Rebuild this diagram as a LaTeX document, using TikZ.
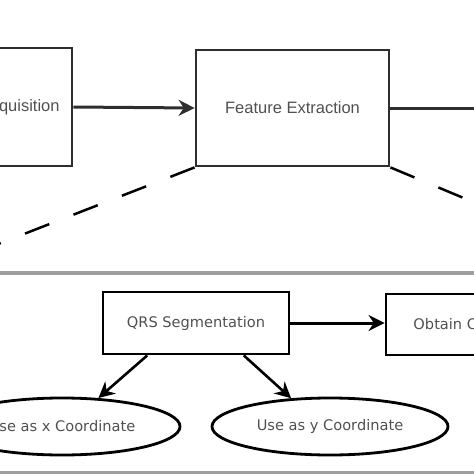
\documentclass[tikz,border=0pt]{standalone}
\usepackage{fontspec}
\usetikzlibrary{shapes.geometric,arrows.meta,calc}
\newfontfamily\topfont{Liberation Sans}
\newfontfamily\botfont{DejaVu Sans}
\definecolor{txtgray}{HTML}{505050}
\definecolor{linegray}{HTML}{2E2E2E}
\begin{document}
\begin{tikzpicture}[x=1pt,y=-1pt,
  topbox/.style={draw=linegray,line width=2.8pt,rectangle,inner sep=0pt,
    font=\topfont\fontsize{16.5}{19}\selectfont,text=txtgray},
  botbox/.style={draw=black,line width=2.8pt,rectangle,inner sep=0pt,
    font=\botfont\fontsize{14.6}{17}\selectfont,text=txtgray},
  botell/.style={draw=black,line width=2.8pt,ellipse,inner sep=0pt,
    minimum width=236pt,minimum height=57pt,
    font=\botfont\fontsize{14.6}{17}\selectfont,text=txtgray},
  flow/.style={line width=3pt,draw=linegray,-{Stealth[length=16pt,width=16pt]}},
  zoomline/.style={line width=2.5pt,draw=black,dash pattern=on 26pt off 26pt},
  sep/.style={line width=3.5pt,draw=gray!75}]
\useasboundingbox (0,0) rectangle (474,474);
\clip (0,0) rectangle (474,474);
% top row
\node[topbox,minimum width=144pt,minimum height=118pt] (acq) at (0,107) {Data Acquisition};
\node[topbox,minimum width=193pt,minimum height=116pt] (fe) at (292.5,108) {Feature Extraction};
\coordinate (nextbox) at (490,108);
\draw[flow] (acq.east) -- (fe.west);
\draw[line width=3pt,draw=linegray] (fe.east) -- (nextbox);
% zoom lines
\coordinate (zl) at (-76,273);
\coordinate (zr) at (643,273);
\draw[zoomline] (fe.south west) -- (zl);
\draw[zoomline] (fe.south east) -- (zr);
% separators
\coordinate (s1a) at (-5,273);
\coordinate (s1b) at (480,273);
\coordinate (s2a) at (-5,472.5);
\coordinate (s2b) at (480,472.5);
\draw[sep] (s1a) -- (s1b);
\draw[sep] (s2a) -- (s2b);
% bottom panel
\node[botbox,minimum width=186pt,minimum height=62pt] (qrs) at (196,323) {QRS Segmentation};
\node[botbox,minimum width=196pt,minimum height=61pt] (obt) at (484,324.5) {Obtain Coordinates};
\node[botell] (xell) at (62,426.5) {Use as x Coordinate};
\node[botell] (yell) at (330,426.5) {Use as y Coordinate};
\draw[flow,draw=black] (qrs.east) -- (qrs.east -| obt.west);
\draw[flow,draw=black,line width=2.6pt] ($(qrs.south west)!0.242!(qrs.south east)$) -- (xell.38);
\draw[flow,draw=black,line width=2.6pt] ($(qrs.south west)!0.753!(qrs.south east)$) -- (yell.144);
\end{tikzpicture}
\end{document}
